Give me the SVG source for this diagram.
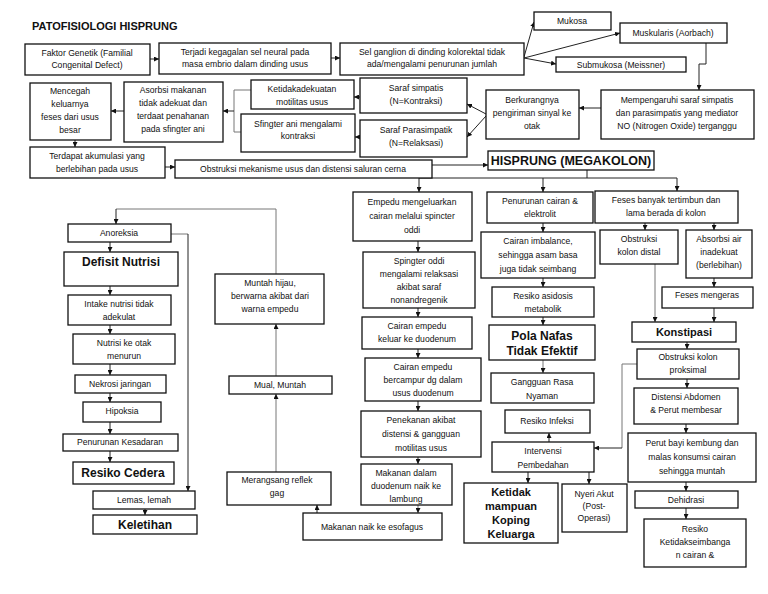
<svg xmlns="http://www.w3.org/2000/svg" width="768" height="594" viewBox="0 0 768 594">
<defs>
<marker id="a" viewBox="0 0 6 6" refX="6" refY="3" markerWidth="5" markerHeight="5" orient="auto"><path d="M0,0 L6,3 L0,6z" fill="#111"/></marker>
</defs>
<style>
rect{fill:#fff;stroke:#111;stroke-width:1.3}
text{font-family:"Liberation Sans",Arial,sans-serif;font-size:8.6px;fill:#111;text-anchor:middle}
.b{font-weight:bold;font-size:12px}
.bm{font-weight:bold;font-size:11px}
.c path{fill:none;stroke:#222;stroke-width:1}
.c .g{stroke:#777}
.c .m{marker-end:url(#a)}
</style>
<rect x="0" y="0" width="768" height="594" style="stroke:none"/>
<text x="32" y="30" style="text-anchor:start;font-weight:bold;font-size:11px">PATOFISIOLOGI HISPRUNG</text>

<g class="c">
<path class="m" d="M150,59 H159"/>
<path class="m" d="M331,58 H340"/>
<path class="m" d="M524,57 L534,22"/>
<path class="m" d="M524,58 L620,33"/>
<path class="m" d="M524,58 L556,64"/>
<path class="m" d="M706,43 V64 H699 V90"/>
<path class="m" d="M601,108 H579"/>
<path class="m" d="M486,114 L467,104"/>
<path class="m" d="M486,116 L467,137"/>
<path class="m" d="M363,97 H354"/>
<path class="m" d="M363,137 H355"/>
<path class="g" d="M251,90 H234 V132 H241"/>
<path class="m" d="M234,111 H223"/>
<path class="m" d="M124,111 H111"/>
<path class="m" d="M75,140 V147"/>
<path class="m" d="M165,167 H175"/>
<path class="m" d="M432,165 H488"/>
<path d="M587,170 V178"/>
<path d="M419,178 H677"/>
<path class="m" d="M419,178 V192"/>
<path class="m" d="M543,178 V192"/>
<path class="m" d="M677,178 V191"/>
<!-- middle column -->
<path class="m" d="M418,241 V252"/>
<path class="m" d="M418,308 V317"/>
<path class="m" d="M418,349 V358"/>
<path class="m" d="M418,401 V411"/>
<path class="m" d="M418,457 V464"/>
<path class="m g" d="M418,505 V513"/>
<path class="m" d="M317,513 V505"/>
<path class="m g" d="M276,472 V394"/>
<path class="m g" d="M276,376 V324"/>
<path class="g" d="M276,274 V209 H116"/>
<path class="m" d="M116,209 V224"/>
<path class="g" d="M171,234 H188"/>
<path class="m" d="M188,234 V491"/>
<path class="m" d="M110,242 V252"/>
<path class="m" d="M110,286 V295"/>
<path class="m" d="M110,325 V334"/>
<path class="m" d="M110,364 V375"/>
<path class="m" d="M110,393 V402"/>
<path class="m" d="M110,422 V434"/>
<path class="m" d="M110,451 V462"/>
<path class="m" d="M145,509 V515"/>
<!-- right-mid -->
<path class="m" d="M543,223 V232"/>
<path class="m" d="M543,278 V287"/>
<path class="m" d="M543,317 V325"/>
<path class="m g" d="M543,360 V373"/>
<path class="m" d="M549,442 V433"/>
<path class="m" d="M528,472 V483"/>
<path class="m" d="M589,472 V484"/>
<!-- right -->
<path class="m" d="M645,223 V230"/>
<path class="m" d="M714,223 V230"/>
<path class="m g" d="M655,264 V322"/>
<path class="m" d="M714,278 V287"/>
<path class="m" d="M714,308 V322"/>
<path class="m" d="M687,342 V349"/>
<path class="m" d="M687,379 V388"/>
<path class="m" d="M686,424 V433"/>
<path class="m" d="M686,482 V491"/>
<path class="m" d="M686,508 V519"/>
<path class="g" d="M637,364 H622 V448"/>
<path class="m" d="M622,448 H594"/>
</g>

<g id="n1"><rect x="25" y="44" width="125" height="31"/><text x="87" y="56">Faktor Genetik (Familial<tspan x="87" dy="12">Congenital Defect)</tspan></text></g>
<g id="n2"><rect x="159" y="43" width="172" height="31"/><text x="245" y="55">Terjadi kegagalan sel neural pada<tspan x="245" dy="12">masa embrio dalam dinding usus</tspan></text></g>
<g id="n3"><rect x="340" y="43" width="184" height="32"/><text x="432" y="55">Sel ganglion di dinding kolorektal tidak<tspan x="432" dy="12">ada/mengalami penurunan jumlah</tspan></text></g>
<g id="n4"><rect x="534" y="12" width="77" height="18"/><text x="572" y="24">Mukosa</text></g>
<g id="n5"><rect x="620" y="23" width="107" height="20"/><text x="673" y="36">Muskularis (Aorbach)</text></g>
<g id="n6"><rect x="556" y="57" width="130" height="15"/><text x="621" y="68">Submukosa (Meissner)</text></g>
<g id="n7"><rect x="601" y="90" width="153" height="49"/><text x="677" y="103">Mempengaruhi saraf simpatis<tspan x="677" dy="13">dan parasimpatis yang mediator</tspan><tspan x="677" dy="13">NO (Nitrogen Oxide) terganggu</tspan></text></g>
<g id="n8"><rect x="486" y="90" width="93" height="49"/><text x="532" y="103">Berkurangnya<tspan x="532" dy="13">pengiriman sinyal ke</tspan><tspan x="532" dy="13">otak</tspan></text></g>
<g id="n9"><rect x="360" y="78" width="107" height="35"/><text x="416" y="91">Saraf simpatis<tspan x="416" dy="13">(N=Kontraksi)</tspan></text></g>
<g id="n10"><rect x="360" y="120" width="107" height="37"/><text x="416" y="133">Saraf Parasimpatik<tspan x="416" dy="13">(N=Relaksasi)</tspan></text></g>
<g id="n11"><rect x="251" y="80" width="103" height="29"/><text x="302" y="92">Ketidakadekuatan<tspan x="302" dy="13">motilitas usus</tspan></text></g>
<g id="n12"><rect x="241" y="114" width="114" height="38"/><text x="298" y="127">Sfingter ani mengalami<tspan x="298" dy="12">kontraksi</tspan></text></g>
<g id="n13"><rect x="124" y="82" width="99" height="60"/><text x="173" y="93">Asorbsi makanan<tspan x="173" dy="13">tidak adekuat dan</tspan><tspan x="173" dy="13">terdaat penahanan</tspan><tspan x="173" dy="13">pada sfingter ani</tspan></text></g>
<g id="n14"><rect x="30" y="83" width="81" height="57"/><text x="70" y="94">Mencegah<tspan x="70" dy="13">keluarnya</tspan><tspan x="70" dy="13">feses dari usus</tspan><tspan x="70" dy="13">besar</tspan></text></g>
<g id="n15"><rect x="30" y="147" width="135" height="31"/><text x="97" y="159">Terdapat akumulasi yang<tspan x="97" dy="13">berlebihan pada usus</tspan></text></g>
<g id="n16"><rect x="175" y="160" width="257" height="18"/><text x="303" y="172">Obstruksi mekanisme usus dan distensi saluran cerna</text></g>
<g id="n17"><rect x="488" y="151" width="166" height="19"/><text x="571" y="165" style="font-weight:bold;font-size:12.5px">HISPRUNG (MEGAKOLON)</text></g>

<g id="m1"><rect x="353" y="192" width="119" height="49"/><text x="412" y="205">Empedu mengeluarkan<tspan x="412" dy="14">cairan melalui spincter</tspan><tspan x="412" dy="14">oddi</tspan></text></g>
<g id="m2"><rect x="363" y="252" width="112" height="56"/><text x="419" y="264">Spingter oddi<tspan x="419" dy="13">mengalami relaksasi</tspan><tspan x="419" dy="13">akibat saraf</tspan><tspan x="419" dy="13">nonandregenik</tspan></text></g>
<g id="m3"><rect x="362" y="317" width="110" height="32"/><text x="417" y="329">Cairan empedu<tspan x="417" dy="13">keluar ke duodenum</tspan></text></g>
<g id="m4"><rect x="365" y="358" width="116" height="43"/><text x="423" y="370">Cairan empedu<tspan x="423" dy="13">bercampur dg dalam</tspan><tspan x="423" dy="13">usus duodenum</tspan></text></g>
<g id="m5"><rect x="361" y="411" width="120" height="46"/><text x="421" y="423">Penekanan akibat<tspan x="421" dy="14">distensi &amp; gangguan</tspan><tspan x="421" dy="14">motilitas usus</tspan></text></g>
<g id="m6"><rect x="361" y="464" width="91" height="41"/><text x="406" y="476">Makanan dalam<tspan x="406" dy="13">duodenum naik ke</tspan><tspan x="406" dy="13">lambung</tspan></text></g>
<g id="m7"><rect x="303" y="513" width="139" height="27"/><text x="372" y="530">Makanan naik ke esofagus</text></g>

<g id="r1"><rect x="487" y="192" width="106" height="31"/><text x="540" y="204">Penurunan cairan &amp;<tspan x="540" dy="13">elektrolit</tspan></text></g>
<g id="r2"><rect x="481" y="232" width="114" height="46"/><text x="538" y="244">Cairan imbalance,<tspan x="538" dy="14">sehingga asam basa</tspan><tspan x="538" dy="14">juga tidak seimbang</tspan></text></g>
<g id="r3"><rect x="492" y="287" width="102" height="30"/><text x="543" y="299">Resiko asidosis<tspan x="543" dy="13">metabolik</tspan></text></g>
<g id="r4"><rect x="489" y="325" width="106" height="35"/><text x="542" y="340" class="b">Pola Nafas<tspan x="542" dy="15">Tidak Efektif</tspan></text></g>
<g id="r5"><rect x="491" y="373" width="103" height="30"/><text x="542" y="385">Gangguan Rasa<tspan x="542" dy="14">Nyaman</tspan></text></g>
<g id="r6"><rect x="505" y="410" width="85" height="23"/><text x="547" y="424">Resiko Infeksi</text></g>
<g id="r7"><rect x="492" y="442" width="102" height="30"/><text x="543" y="454">Intervensi<tspan x="543" dy="14">Pembedahan</tspan></text></g>
<g id="r8"><rect x="464" y="483" width="94" height="60"/><text x="511" y="496" class="bm">Ketidak<tspan x="511" dy="14">mampuan</tspan><tspan x="511" dy="14">Koping</tspan><tspan x="511" dy="14">Keluarga</tspan></text></g>
<g id="r9"><rect x="562" y="484" width="65" height="48"/><text x="594" y="497">Nyeri Akut<tspan x="594" dy="12">(Post-</tspan><tspan x="594" dy="12">Operasi)</tspan></text></g>

<g id="k1"><rect x="595" y="191" width="143" height="32"/><text x="666" y="203">Feses banyak tertimbun dan<tspan x="666" dy="13">lama berada di kolon</tspan></text></g>
<g id="k2"><rect x="600" y="230" width="78" height="34"/><text x="639" y="242">Obstruksi<tspan x="639" dy="13">kolon distal</tspan></text></g>
<g id="k3"><rect x="686" y="230" width="66" height="48"/><text x="719" y="242">Absorbsi air<tspan x="719" dy="13">inadekuat</tspan><tspan x="719" dy="13">(berlebihan)</tspan></text></g>
<g id="k4"><rect x="662" y="287" width="91" height="21"/><text x="707" y="298">Feses mengeras</text></g>
<g id="k5"><rect x="632" y="322" width="104" height="20"/><text x="684" y="336" class="bm">Konstipasi</text></g>
<g id="k6"><rect x="637" y="349" width="102" height="30"/><text x="688" y="360">Obstruksi kolon<tspan x="688" dy="13">proksimal</tspan></text></g>
<g id="k7"><rect x="634" y="388" width="104" height="36"/><text x="686" y="400">Distensi Abdomen<tspan x="686" dy="13">&amp; Perut membesar</tspan></text></g>
<g id="k8"><rect x="628" y="433" width="128" height="49"/><text x="692" y="446">Perut bayi kembung dan<tspan x="692" dy="14">malas konsumsi cairan</tspan><tspan x="692" dy="14">sehingga muntah</tspan></text></g>
<g id="k9"><rect x="635" y="491" width="103" height="17"/><text x="686" y="503">Dehidrasi</text></g>
<g id="k10"><rect x="644" y="519" width="102" height="48"/><text x="695" y="532">Resiko<tspan x="695" dy="13">Ketidakseimbanga</tspan><tspan x="695" dy="13">n cairan &amp;</tspan></text></g>

<g id="l1"><rect x="68" y="224" width="103" height="18"/><text x="119" y="236">Anoreksia</text></g>
<g id="l2"><rect x="64" y="252" width="114" height="34"/><text x="121" y="266" class="b">Defisit Nutrisi</text></g>
<g id="l3"><rect x="68" y="295" width="103" height="30"/><text x="119" y="307">Intake nutrisi tidak<tspan x="119" dy="13">adekulat</tspan></text></g>
<g id="l4"><rect x="73" y="334" width="102" height="30"/><text x="124" y="346">Nutrisi ke otak<tspan x="124" dy="13">menurun</tspan></text></g>
<g id="l5"><rect x="75" y="375" width="91" height="18"/><text x="120" y="387">Nekrosi jaringan</text></g>
<g id="l6"><rect x="83" y="402" width="78" height="20"/><text x="122" y="414">Hipoksia</text></g>
<g id="l7"><rect x="63" y="434" width="115" height="17"/><text x="120" y="445">Penurunan Kesadaran</text></g>
<g id="l8"><rect x="73" y="462" width="101" height="22"/><text x="123" y="477" class="b">Resiko Cedera</text></g>
<g id="l9"><rect x="93" y="491" width="102" height="18"/><text x="144" y="503">Lemas, lemah</text></g>
<g id="l10"><rect x="93" y="515" width="104" height="19"/><text x="145" y="529" class="b">Keletihan</text></g>
<g id="l11"><rect x="215" y="274" width="109" height="50"/><text x="270" y="286">Muntah hijau,<tspan x="270" dy="13">berwarna akibat dari</tspan><tspan x="270" dy="13">warna empedu</tspan></text></g>
<g id="l12"><rect x="229" y="376" width="103" height="18"/><text x="280" y="388">Mual, Muntah</text></g>
<g id="l13"><rect x="227" y="472" width="104" height="33"/><text x="277" y="483">Merangsang reflek<tspan x="277" dy="13">gag</tspan></text></g>
</svg>
